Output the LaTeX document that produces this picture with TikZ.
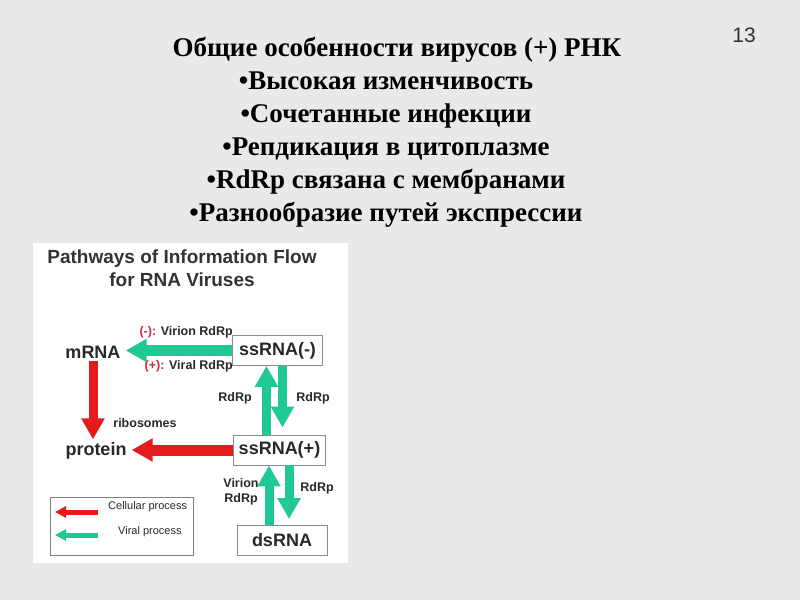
\documentclass[tikz,border=0pt]{standalone}
\usepackage{fontspec}
\setmainfont{Liberation Serif}
\setsansfont{Liberation Sans}
\usetikzlibrary{arrows.meta}

\definecolor{pagegray}{RGB}{233,233,233}
\definecolor{cellred}{RGB}{228,26,28}
\definecolor{viralgreen}{RGB}{32,200,150}
\definecolor{lblred}{RGB}{205,45,65}
\definecolor{txtdark}{RGB}{40,40,40}

\begin{document}
\begin{tikzpicture}[x=1pt, y=-1pt,
  slide/.style = {align=center, font=\bfseries\fontsize{27}{33}\selectfont},
  box/.style  = {draw=black!45, line width=0.8pt, fill=white, inner xsep=5pt,
                 minimum width=90pt, minimum height=30pt,
                 font=\sffamily\bfseries\fontsize{18}{20}\selectfont, text=txtdark},
  word/.style = {inner xsep=5pt, inner ysep=3pt,
                 font=\sffamily\bfseries\fontsize{18}{20}\selectfont, text=txtdark},
  lbl/.style  = {inner sep=0pt, font=\sffamily\bfseries\fontsize{12.5}{15}\selectfont,
                 text=txtdark, align=center},
  key/.style  = {inner sep=0pt, font=\sffamily\fontsize{11}{13}\selectfont, text=txtdark},
  cell/.style = {draw=cellred, line width=11pt, -{Triangle[length=21pt,width=22pt]}},
  viral/.style = {draw=viralgreen, line width=11pt, -{Triangle[length=21pt,width=22pt]}},
  vcell/.style = {cell, line width=9pt},
  vviral/.style = {viral, line width=9pt}
]
  \useasboundingbox[fill=pagegray] (0,0) rectangle (800,600);

  % Slide text
  \node[slide] (head) at (397,50) {Общие особенности вирусов (+) РНК};
  \node[slide] (bullets) at (386,150)
    {•Высокая изменчивость\\
     •Сочетанные инфекции\\
     •Репдикация в цитоплазме\\
     •RdRp связана с мембранами\\
     •Разнообразие путей экспрессии};
  \node[font=\sffamily\fontsize{21}{23}\selectfont, text=black!80] (num) at (744,35) {13};

  % Figure panel
  \fill[white] (33,243) rectangle (348,563);
  \node[align=center, font=\sffamily\bfseries\fontsize{19}{23}\selectfont, text=black!80]
    (ptitle) at (182,268) {Pathways of Information Flow\\for RNA Viruses};

  % Molecules
  \node[word] (mrna)    at (93,352)    {mRNA};
  \node[word] (protein) at (96,451)    {protein};
  \node[box]  (ssminus) at (277.5,350.5) {ssRNA(-)};
  \node[box]  (ssplus)  at (279.5,450) {ssRNA(+)};
  \node[box]  (dsrna)   at (282,540.5) {dsRNA};

  % Arrows
  \draw[viral] (ssminus.west) -- (ssminus.west -| mrna.east);
  \draw[cell]  (ssplus.west)  -- (ssplus.west -| protein.east);
  \draw[vcell] (mrna.south) -- (mrna.south |- protein.north);

  \draw[vviral] ([xshift=-13pt]ssplus.north) -- ([xshift=-13pt]ssplus.north |- ssminus.south);
  \draw[vviral, shorten >=7pt] ([xshift=5pt]ssminus.south) -- ([xshift=5pt]ssminus.south |- ssplus.north);
  \draw[vviral] ([xshift=-13pt]dsrna.north) -- ([xshift=-13pt]dsrna.north |- ssplus.south);
  \draw[vviral, shorten >=6pt] ([xshift=7pt]dsrna.north |- ssplus.south) -- ([xshift=7pt]dsrna.north);

  % Labels
  \node[lbl, anchor=east] (lvirion) at (233,332) {\textcolor{lblred}{(-):} Virion RdRp};
  \node[lbl, anchor=east] (lviral)  at (233,366) {\textcolor{lblred}{(+):} Viral RdRp};
  \node[lbl] (lup)   at (235,398) {RdRp};
  \node[lbl] (ldown) at (313,398) {RdRp};
  \node[lbl] (lribo) at (145,423) {ribosomes};
  \node[lbl] (lvir2) at (241,492) {Virion\\RdRp};
  \node[lbl] (ldown2) at (317,488) {RdRp};

  % Legend
  \draw[black!50, line width=0.6pt] (50,497) rectangle (193,555);
  \coordinate (c1) at (98,512);  \coordinate (c2) at (55,512);
  \coordinate (v1) at (98,535);  \coordinate (v2) at (55,535);
  \draw[draw=cellred, line width=5pt, -{Triangle[length=11pt,width=11pt]}] (c1) -- (c2);
  \draw[draw=viralgreen, line width=5pt, -{Triangle[length=11pt,width=11pt]}] (v1) -- (v2);
  \node[key, anchor=west] (kcell)  at (108,507) {Cellular process};
  \node[key, anchor=west] (kviral) at (118,532) {Viral process};

\end{tikzpicture}
\end{document}
